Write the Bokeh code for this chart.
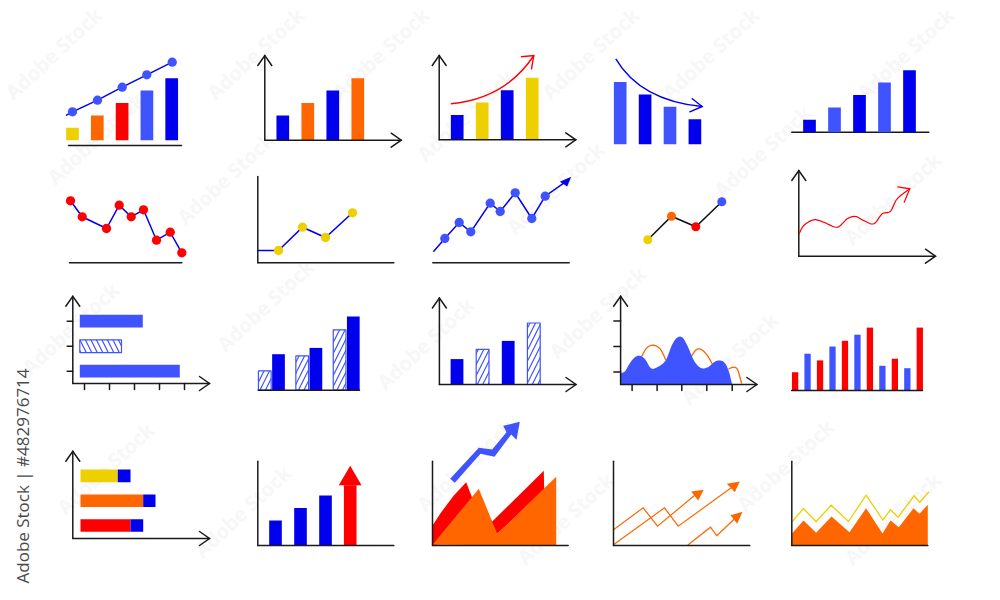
from bokeh.embed import file_html
from bokeh.resources import INLINE
from bokeh.plotting import figure
from bokeh.models import Range1d
from bokeh.core.properties import value

BLUE, LIGHT, RED, ORANGE, YELLOW, INK = "#0000EE", "#3F53FF", "#FF0000", "#FF6600", "#EECF00", "#1a1a1a"

# --- data: bars in units of one bar step, lines in points above each baseline
STEP_BARS = [1, 2, 3, 4, 5]
STEP_BARS_4 = [2, 3, 4, 5]
DOWN_BARS = [5, 4, 3, 2]
p1_colors = [YELLOW, ORANGE, RED, LIGHT, BLUE]
p1_line_x = [1, 7, 32, 56.7, 81.3, 106.7]
p1_line_y = [25, 28.4, 40, 53, 65.4, 78]
p2_colors = [BLUE, ORANGE, BLUE, ORANGE]
p3_colors = [BLUE, YELLOW, BLUE, YELLOW]
p4_colors = [LIGHT, BLUE, LIGHT, BLUE]
p5_colors = [BLUE, LIGHT, BLUE, LIGHT, BLUE]

p6_x = [1, 12.7, 37, 49.7, 61.7, 74, 87, 100.7, 112.3]
p6_y = [62, 46, 34.3, 57.6, 46, 53, 22.6, 30.6, 10]
p7_x = [0, 20.7, 44.7, 67.7, 94.7]
p7_y = [12.3, 12.3, 35.6, 25.3, 50]
p8_x = [12, 26.4, 38, 57.4, 67.4, 82.4, 99, 112.4]
p8_y = [24.3, 40.3, 31, 59.6, 51.3, 70, 44.3, 66.6]
p9_x = [0, 23.7, 48, 74]
p9_y = [0, 23.6, 13, 38]
p9_colors = [YELLOW, ORANGE, RED, LIGHT]
p10_x = [0.4, 5, 15, 25, 38.4, 48.4, 56.7, 65, 75, 83.4, 91.7, 98.4, 111]
p10_y = [22.4, 30.7, 36.4, 34, 29, 37.4, 39.7, 35.7, 32.4, 42.4, 45, 57.4, 67.4]

p11_lengths = [100, 41.7, 63]
p11_rows = [1, 2, 3]
p12_hatched = [19.3, 34.3, 60.3]
p12_solid = [36, 42.3, 73.7]
p13_solid_x = [1, 3]
p13_solid = [25.4, 43.6]
p13_hatched_x = [2, 4]
p13_hatched = [35.2, 61.5]

p14_area_x = [0, 4.3, 9.3, 14.3, 19.3, 24.3, 30, 36, 44.3, 51, 56, 61, 66, 72.7, 79.3, 86, 92.7, 97.7, 102.7, 106.7, 110]
p14_area_y = [11.3, 13, 21.3, 27, 28.3, 24.7, 16, 17, 23.7, 39.7, 46.3, 46.3, 38, 23, 16.3, 17, 22.3, 23.7, 21.3, 13, 0]
p14_wave1_x = [21, 26, 32.7, 39.3, 44.3]
p14_wave1_y = [28, 36.3, 38.7, 34.7, 24.7]
p14_wave2_x = [70, 74.3, 79.3, 85.3, 90.7]
p14_wave2_y = [28, 34, 34.7, 29, 19.7]
p14_wave3_x = [106.7, 111, 115.3, 119.3]
p14_wave3_y = [15.3, 17, 14.7, 1.3]

p15_values = [18.3, 36.8, 30.1, 44, 49.7, 55.8, 62.9, 24.7, 31.8, 22.3, 62.9]
p15_colors = [RED, LIGHT] * 5 + [RED]

p16_first = [50, 62.7, 37.3]
p16_second = [12.7, 12.3, 12.7]
p16_colors = [RED, ORANGE, YELLOW]

p17_bars = [2, 3, 4]
p17_arrow_shaft = 60.3
p17_arrow_tip = 79.7

p18_red_x = [0, 0, 8, 21.3, 33.7, 40.7, 59.7, 111.3, 111.7, 64.7]
p18_red_y = [0, 20, 32.3, 50, 63.3, 45, 24, 74.7, 55, 11.7]
p18_orange_x = [0, 46.3, 64.7, 123.7, 123.7]
p18_orange_y = [0.7, 56.7, 11.7, 68.7, 0]
p18_arrow_x = [17.7, 46.3, 59.7, 74, 70.7, 87.3, 84, 78.7, 62, 48, 22.3]
p18_arrow_y = [66.7, 97.7, 96, 113.3, 119.7, 123.7, 105.7, 111, 88.7, 91.7, 62.7]

p19_a_x = [0, 29.7, 44, 81]
p19_a_y = [15.7, 37.7, 19.3, 50]
p19_b_x = [0, 51, 64.7, 117.7]
p19_b_y = [0.7, 37.7, 19.3, 57.7]
p19_c_x = [74.7, 97, 103.3, 120.3]
p19_c_y = [0.7, 18.3, 9.7, 26]

p20_area_x = [0, 11.7, 24.3, 39.7, 57.7, 74.3, 90.7, 98.7, 107, 121.7, 127.7, 136]
p20_area_y = [11.7, 25, 12.7, 29, 13.3, 37.3, 12, 25, 18.3, 37.3, 31.7, 40.7]
p20_line_x = [0.7, 11.7, 24.3, 39.3, 56.7, 74.3, 91, 98.7, 106.3, 122.3, 128, 136.7]
p20_line_y = [24.3, 37, 23.7, 40.3, 24, 50.3, 25.7, 35.7, 28.3, 49.7, 43.3, 53.3]

SIDE_LABEL = "Adobe Stock | #482976714"
WATERMARK = "Adobe Stock"
wm_x = [50, 180, 420, 510, 717, 847, 25, 220, 380, 552, 684, 60, 197, 420, 520, 740, 847, 8, 210, 335, 545, 665, 860]
wm_y = [180, 220, 157, 230, 193, 240, 370, 347, 385, 354, 400, 510, 553, 507, 560, 507, 560, 95, 95, 95, 95, 95, 95]

# --- page
W, H = 984, 584
XMIN, XMAX, YMIN, YMAX = 0, W, 0, H
p = figure(width=W, height=H, output_backend="svg", toolbar_location=None, min_border=0,
           x_range=Range1d(XMIN, XMAX), y_range=Range1d(YMAX, YMIN), x_axis_type=None, y_axis_type=None)
p.grid.visible = False
p.outline_line_color = None

_n = [0]


def panel(ox, oy, sx=1.0, sy=1.0):
    """A pair of scales: value 0 sits at page (ox, oy), y grows upward."""
    _n[0] += 1
    xn, yn = f"x{_n[0]}", f"y{_n[0]}"
    p.extra_x_ranges[xn] = Range1d((XMIN - ox) / sx, (XMAX - ox) / sx)
    p.extra_y_ranges[yn] = Range1d((oy - YMAX) / sy, (oy - YMIN) / sy)
    return dict(x_range_name=xn, y_range_name=yn)


def seg(k, xs, ys, color=INK, w=1.5):
    p.line(xs, ys, line_color=color, line_width=w, line_cap="round", line_join="miter", **k)


def axes(k, ytop=None, xend=None, head_y=True, head_x=True):
    if ytop is not None:
        seg(k, [0, 0], [0, ytop])
        if head_y:
            seg(k, [-7, 0, 7], [ytop - 10, ytop, ytop - 10])
    if xend is not None:
        seg(k, [0, xend], [0, 0])
        if head_x:
            seg(k, [xend - 10, xend, xend - 10], [7, 0, -7])


def smooth(xs, ys, n=10):
    ox, oy = [xs[0]], [ys[0]]
    m = len(xs)
    for i in range(m - 1):
        x0, y0 = (xs[i - 1], ys[i - 1]) if i else (xs[i], ys[i])
        x3, y3 = (xs[i + 2], ys[i + 2]) if i + 2 < m else (xs[i + 1], ys[i + 1])
        for j in range(1, n + 1):
            t = j / n
            a, b, c, d = (-t**3 + 2*t*t - t) / 2, (3*t**3 - 5*t*t + 2) / 2, (-3*t**3 + 4*t*t + t) / 2, (t**3 - t*t) / 2
            ox.append(a * x0 + b * xs[i] + c * xs[i + 1] + d * x3)
            oy.append(a * y0 + b * ys[i] + c * ys[i + 1] + d * y3)
    return ox, oy


def bars(k, xs, tops, colors, width):
    p.vbar(x=xs, top=tops, bottom=0, width=width, fill_color=colors, line_width=0, line_color=None, **k)


def hatched(k, xs, tops, width, pattern="right_diagonal_line"):
    p.vbar(x=xs, top=tops, bottom=0, width=width, fill_color="white", line_color=LIGHT, line_width=1.2,
           hatch_pattern=pattern, hatch_color=LIGHT, hatch_scale=11, hatch_weight=1.2, **k)


def dots(k, xs, ys, colors, size=9.3):
    p.scatter(xs, ys, size=size, fill_color=colors, line_width=0, line_color=None, **k)


# --- background marks
p.text(wm_x, wm_y, text=[WATERMARK] * len(wm_x), angle=0.75, text_font=value("Open Sans"),
       text_font_style="bold", text_font_size="20px", text_color="#f7f7f7", text_baseline="middle")
p.text([22], [583], text=[SIDE_LABEL], angle=1.5708, text_font=value("Open Sans"), text_font_size="17px",
       text_color="#4a4a4a", text_baseline="alphabetic")

BW = 0.512

# Row 1
k = panel(65, 139.7)
seg(k, [3, 116], [-5.3, -5.3])
d = panel(72 - 24.8, 139.7, 24.8, 12.4)
bars(d, STEP_BARS, STEP_BARS, p1_colors, BW)
seg(k, p1_line_x, p1_line_y, BLUE)
dots(k, p1_line_x[1:], p1_line_y[1:], LIGHT)

k = panel(264.3, 139.7)
d = panel(282.3 - 2 * 25, 139.7, 25, 12.4)
bars(d, [2, 3, 4, 5], STEP_BARS_4, p2_colors, 0.508)
axes(k, 84.7, 136.4)

k = panel(438.7, 139.3)
d = panel(456.7 - 25, 139.3, 25, 12.4)
bars(d, [1, 2, 3, 4], STEP_BARS_4, p3_colors, 0.508)
axes(k, 84.3, 136.6)
p.quadratic(x0=[11.6], y0=[36], x1=[94.6], y1=[84.3], cx=[66.3], cy=[41.3], line_color=RED, line_width=1.4, **k)
seg(k, [82.3, 94.6, 92.3], [83, 84.3, 71], RED, 1.4)

k = panel(613.3, 143.7)
d = panel(619.7 - 24.9, 143.7, 24.9, 12.45)
bars(d, [1, 2, 3, 4], DOWN_BARS, p4_colors, 0.508)
p.quadratic(x0=[2], y0=[85.4], x1=[88.4], y1=[37.7], cx=[26.7], cy=[43.7], line_color=BLUE, line_width=1.4, **k)
seg(k, [78.4, 88.4, 76], [45.4, 37.7, 32.4], BLUE, 1.4)

k = panel(791.3, 131.7)
seg(k, [0, 137], [0, 0])
d = panel(809 - 25, 131.7, 25, 12.4)
bars(d, STEP_BARS, STEP_BARS, p5_colors, 0.508)

# Row 2
k = panel(69, 262.3)
seg(k, [0, 112.3], [0, 0])
seg(k, p6_x, p6_y, BLUE)
dots(k, p6_x, p6_y, RED)

k = panel(257.3, 262.3)
axes(k, 86.3, 136, False, False)
seg(k, p7_x, p7_y, BLUE)
dots(k, p7_x[1:], p7_y[1:], YELLOW)

k = panel(432.3, 262.3)
seg(k, [0, 136.4], [0, 0])
seg(k, [1] + p8_x + [132], [11.6] + p8_y + [80.5], BLUE)
dots(k, p8_x, p8_y, LIGHT)
p.patch([138.4, 127, 134.4], [86, 81, 76.3], fill_color=BLUE, line_width=0, line_color=None, **k)

k = panel(647.3, 239.3)
seg(k, p9_x, p9_y, "#111111")
dots(k, p9_x, p9_y, p9_colors, 9)

k = panel(798.3, 255.7)
axes(k, 85.7, 136.7)
wx, wy = smooth(p10_x, p10_y)
seg(k, wx, wy, RED, 1.2)
seg(k, [99, 111, 105.4], [69.4, 67.4, 54], RED, 1.2)

# Row 3
k = panel(72.3, 383)
axes(k, 87.3, 136.7)
seg(k, [-5.6, 0], [12.3, 12.3])
seg(k, [-5.6, 0], [37.3, 37.3])
seg(k, [-5.6, 0], [62.3, 62.3])
for tx in (11.7, 36.7, 61.7, 86.7, 111.7):
    seg(k, [tx, tx], [-6, 0])
d = panel(79.3, 395.7, 1, 25)
p.hbar(y=[p11_rows[0], p11_rows[2]], left=0, right=[p11_lengths[0], p11_lengths[2]], height=0.51,
       fill_color=LIGHT, line_width=0, line_color=None, **d)
p.hbar(y=[p11_rows[1]], left=0, right=[p11_lengths[1]], height=0.51, fill_color="white", line_color=LIGHT,
       line_width=1.2, hatch_pattern="left_diagonal_line", hatch_color=LIGHT, hatch_scale=11, hatch_weight=1.2, **d)

k = panel(257.7, 389.7)
d1 = panel(264.3 - 37.4, 389.7, 37.4, 1)
d2 = panel(278 - 37.4, 389.7, 37.4, 1)
hatched(d1, [1, 2, 3], p12_hatched, 0.34)
bars(d2, [1, 2, 3], p12_solid, [BLUE] * 3, 0.34)
seg(k, [0, 101.3], [0, 0])

k = panel(438.9, 384)
d = panel(456.5 - 25.6, 384, 25.6, 1)
bars(d, p13_solid_x, p13_solid, [BLUE] * 2, 0.5)
hatched(d, p13_hatched_x, p13_hatched, 0.5)
axes(k, 86.5, 136.6)

k = panel(620.1, 384)
d = panel(620.1, 384, 1.014, 1.014)
wx, wy = smooth(p14_wave1_x, p14_wave1_y)
seg(d, wx, wy, ORANGE, 1.3)
wx, wy = smooth(p14_wave2_x, p14_wave2_y)
seg(d, wx, wy, ORANGE, 1.3)
wx, wy = smooth(p14_wave3_x, p14_wave3_y)
seg(d, wx, wy, ORANGE, 1.3)
wx, wy = smooth(p14_area_x, p14_area_y)
p.patch([0] + wx + [0], [0] + wy + [0], fill_color=LIGHT, line_width=0, line_color=None, **d)
axes(k, 88.3, 136.3)
for ty in (12.4, 38.1, 63.4):
    seg(k, [-6.7, 0], [ty, ty])
for tx in (11.5, 36.5, 61.2, 86.2, 111.6):
    seg(k, [tx, tx], [-6, 0])

k = panel(791.2, 390)
d = panel(794.6 - 12.47, 390, 12.47, 1)
bars(d, list(range(1, 12)), p15_values, p15_colors, 0.505)
seg(k, [0, 130.8], [0, 0])

# Row 4
k = panel(72.3, 538)
d = panel(80, 549.8, 1, 24.8)
cum = [a + b for a, b in zip(p16_first, p16_second)]
p.hbar(y=[1, 2, 3], left=0, right=p16_first, height=0.51, fill_color=p16_colors, line_width=0, line_color=None, **d)
p.hbar(y=[1, 2, 3], left=p16_first, right=cum, height=0.51, fill_color=BLUE, line_width=0, line_color=None, **d)
axes(k, 87.3, 136.7)

k = panel(257.3, 545)
d = panel(275 - 25, 545, 25, 12.5)
bars(d, [1, 2, 3], p17_bars, [BLUE] * 3, 0.505)
shaft = panel(349.7 - 4 * 25, 545, 25, 1)
bars(shaft, [4], [p17_arrow_shaft], [RED], 0.505)
p.patch([81, 103.7, 92.4], [p17_arrow_shaft, p17_arrow_shaft, p17_arrow_tip], fill_color=RED, line_width=0,
        line_color=None, **k)
axes(k, 84.3, 136, False, False)

k = panel(432, 545)
p.patch(p18_red_x, p18_red_y, fill_color=RED, line_width=0, line_color=None, **k)
p.patch(p18_orange_x, p18_orange_y, fill_color=ORANGE, line_width=0, line_color=None, **k)
p.patch(p18_arrow_x, p18_arrow_y, fill_color=LIGHT, line_width=0, line_color=None, **k)
axes(k, 84.3, 135.7, False, False)

k = panel(613, 545)
seg(k, p19_a_x, p19_a_y, ORANGE, 1.2)
seg(k, p19_b_x, p19_b_y, ORANGE, 1.2)
seg(k, p19_c_x, p19_c_y, ORANGE, 1.2)
p.patch([90.3, 77.7, 84.7], [55.7, 54, 45], fill_color=ORANGE, line_width=0, line_color=None, **k)
p.patch([126.3, 113.3, 121.3], [64, 61.7, 53.3], fill_color=ORANGE, line_width=0, line_color=None, **k)
p.patch([129, 117, 123.7], [33.7, 30.3, 21.7], fill_color=ORANGE, line_width=0, line_color=None, **k)
axes(k, 84.3, 136.3, False, False)

k = panel(791.3, 545)
p.patch([0] + p20_area_x + [136], [0] + p20_area_y + [0], fill_color=ORANGE, line_width=0, line_color=None, **k)
seg(k, p20_line_x, p20_line_y, YELLOW, 1.3)
axes(k, 84.3, 136, False, False)

open("out.html", "w").write(file_html(p, INLINE))
